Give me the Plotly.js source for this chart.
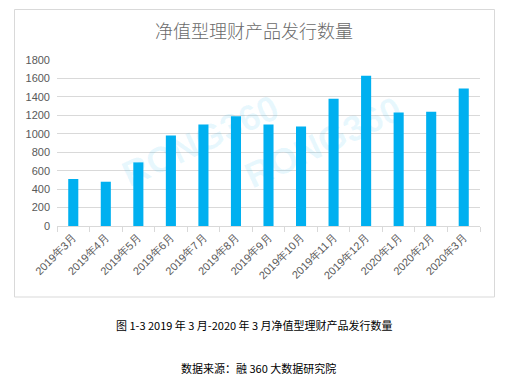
<!DOCTYPE html>
<html><head><meta charset="utf-8">
<script src="https://cdn.plot.ly/plotly-3.0.1.min.js"></script>
<style>html,body{margin:0;padding:0;background:#fff;}#c{width:508px;height:383px;}</style>
</head><body><div id="c"></div>
<script>
const categories = ["2019年3月","2019年4月","2019年5月","2019年6月","2019年7月","2019年8月","2019年9月","2019年10月","2019年11月","2019年12月","2020年1月","2020年2月","2020年3月"];
const counts = [510, 480, 690, 980, 1100, 1190, 1100, 1080, 1380, 1630, 1230, 1240, 1490];
const yTicks = [0,200,400,600,800,1000,1200,1400,1600,1800];
const chartTitle = "净值型理财产品发行数量";
const caption = "图 1-3 2019 年 3 月-2020 年 3 月净值型理财产品发行数量";
const source = "数据来源：融 360 大数据研究院";

const L=57,R=480,T=60,B=226,W=508,H=383;
const px=x=>(x-L)/(R-L), py=y=>(B-y)/(B-T);
const cjk='"Noto Sans CJK SC", "Noto Sans", sans-serif';
const lat='"Liberation Sans", Arial, sans-serif';

const trace={type:'bar',x:categories,y:counts,marker:{color:'#00b0f0'},hoverinfo:'skip'};
const layout={
  width:W,height:H,margin:{l:L,r:W-R,t:T,b:H-B,pad:0},
  paper_bgcolor:'#fff',plot_bgcolor:'#fff',showlegend:false,bargap:0.69,
  title:{text:chartTitle,font:{family:cjk,size:18,color:'#6a6a6a',weight:300},x:0.5,xanchor:'center',y:1-32/H,yanchor:'middle'},
  xaxis:{type:'category',tickangle:-45,tickfont:{family:lat,size:11,color:'#595959'},
    showgrid:false,showline:true,linecolor:'#d9d9d9',ticks:'outside',tickson:'boundaries',ticklen:5,tickcolor:'#d9d9d9',fixedrange:true},
  yaxis:{range:[0,1800],tickvals:yTicks,tickfont:{family:lat,size:11,color:'#595959'},
    showgrid:true,gridcolor:'#d9d9d9',gridwidth:1,zeroline:false,showline:false,ticks:'',ticklabelstandoff:6,fixedrange:true},
  shapes:[{type:'rect',xref:'paper',yref:'paper',x0:px(14.5),x1:px(494.5),y0:py(297),y1:py(9.5),line:{color:'#d9d9d9',width:1},fillcolor:'rgba(0,0,0,0)',layer:'below'}],
  annotations:[
    {text:'<b>RONG360</b>',xref:'paper',yref:'paper',x:px(113),y:py(140),showarrow:false,textangle:-25,font:{family:lat,size:36,color:'rgba(0,176,240,0.09)'}},
    {text:'<b>RONG360</b>',xref:'paper',yref:'paper',x:px(410),y:py(142),showarrow:false,textangle:-25,font:{family:lat,size:36,color:'rgba(0,176,240,0.09)'}},
    {text:caption,xref:'paper',yref:'paper',x:px(254),y:py(325),showarrow:false,xanchor:'center',yanchor:'middle',font:{family:cjk,size:11,color:'#000'}},
    {text:source,xref:'paper',yref:'paper',x:px(258),y:py(368),showarrow:false,xanchor:'center',yanchor:'middle',font:{family:cjk,size:11,color:'#000'}}
  ]
};
Plotly.newPlot('c',[trace],layout,{displayModeBar:false,staticPlot:true});
</script></body></html>
